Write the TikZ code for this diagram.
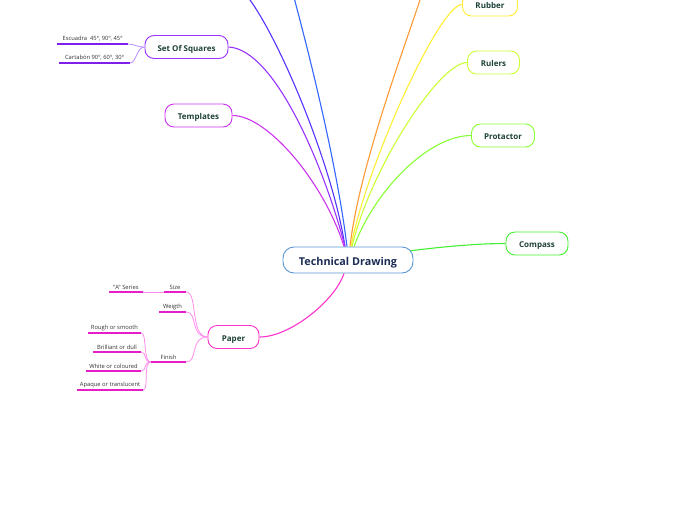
\documentclass[tikz,border=0pt]{standalone}
\usepackage{fontspec}
\setmainfont{Open Sans}
\usetikzlibrary{backgrounds}
\definecolor{navy}{RGB}{28,44,85}
\definecolor{nodetext}{RGB}{30,66,56}
\definecolor{subtext}{RGB}{50,50,50}
\definecolor{cdborder}{RGB}{90,150,210}
\definecolor{cviolet}{RGB}{85,51,255}
\definecolor{cblue}{RGB}{51,102,255}
\definecolor{csq}{RGB}{153,51,255}
\definecolor{csqdark}{RGB}{130,30,235}
\definecolor{csqlight}{RGB}{185,140,255}
\definecolor{ctp}{RGB}{204,51,238}
\definecolor{corange}{RGB}{255,153,51}
\definecolor{cyellow}{RGB}{255,238,51}
\definecolor{crulers}{RGB}{204,255,51}
\definecolor{cprot}{RGB}{136,255,51}
\definecolor{ccomp}{RGB}{68,238,51}
\definecolor{cpink}{RGB}{255,51,204}
\definecolor{cpinkdark}{RGB}{230,30,200}
\definecolor{cpinklight}{RGB}{255,140,235}
\begin{document}
\begin{tikzpicture}[x=1pt,y=-1pt,
  topic/.style={draw, rounded corners=9pt, line width=0.9pt, fill=white, text=nodetext,
    font=\fontsize{8}{9}\selectfont\bfseries, minimum height=23pt, inner sep=0pt,
    text height=0.85em, text depth=0pt},
  central/.style={draw=cdborder, rounded corners=11pt, line width=0.9pt, fill=white, text=navy,
    font=\fontsize{10.8}{12}\selectfont\bfseries, minimum height=26pt, minimum width=130pt, inner sep=0pt,
    text height=1em, text depth=0pt},
  subnode/.style={font=\fontsize{5.8}{7}\selectfont, text=subtext, inner xsep=0pt, inner ysep=2.2pt, anchor=south},
  conn/.style={line width=1.1pt},
  sqline/.style={draw=csqdark, line width=1.6pt},
  sqconn/.style={draw=csqlight, line width=0.8pt},
  pkline/.style={draw=cpinkdark, line width=1.6pt},
  pkconn/.style={draw=cpinklight, line width=0.8pt}]
\useasboundingbox (0,0) rectangle (696,520);
\clip (0,0) rectangle (696,520);

% main nodes
\node[central] (cd) at (348,260) {Technical Drawing};
\node[topic, draw=csq, minimum width=83pt] (sq) at (186.5,47) {Set Of Squares};
\node[topic, draw=ctp, minimum width=67pt] (tp) at (198.5,115.5) {Templates};
\node[topic, draw=cyellow, minimum width=55pt] (rb) at (490,4.5) {Rubber};
\node[topic, draw=crulers, minimum width=52pt] (rl) at (493.5,62.5) {Rulers};
\node[topic, draw=cprot, minimum width=63pt] (pr) at (503,135.5) {Protactor};
\node[topic, draw=ccomp, minimum width=62pt] (cp) at (537,243.5) {Compass};
\node[topic, draw=cpink, minimum width=51pt] (pp) at (233.5,337) {Paper};

\coordinate (o1) at (235,-15);
\coordinate (o2) at (292,-10);
\coordinate (o3) at (423,-10);

% set of squares subtopics
\node[subnode, minimum width=71pt] (e1) at (92.5,44) {Escuadra\ \ 45º, 90º, 45º};
\node[subnode, minimum width=71pt] (e2) at (94.5,63) {Cartabón 90º, 60º, 30º};

% paper subtopics
\node[subnode, minimum width=34pt] (as) at (126,292) {"A" Series};
\node[subnode, minimum width=22pt] (sz) at (175,292) {Size};
\node[subnode, minimum width=27pt] (wg) at (172.5,312) {Weigth};
\node[subnode, minimum width=35pt] (fn) at (168.5,362) {Finish};
\node[subnode, minimum width=53pt] (r1) at (114.5,333) {Rough or smooth};
\node[subnode, minimum width=48pt] (r2) at (117,352) {Brilliant or dull};
\node[subnode, minimum width=55pt] (r3) at (113.5,371) {White or coloured};
\node[subnode, minimum width=66pt] (r4) at (110,390) {Apaque or translucent};

\begin{scope}[on background layer]
  \draw[conn, cviolet] (o1) .. controls +(25,10) and +(-15,-97) .. ([xshift=-3pt]cd.north);
  \draw[conn, cblue] (o2) .. controls +(8,30) and +(-12,-97) .. ([xshift=-1pt]cd.north);
  \draw[conn, csq] (sq.east) .. controls +(47,2) and +(-20,-77) .. ([xshift=-3pt]cd.north);
  \draw[conn, ctp] (tp.east) .. controls +(36,0) and +(-19,-62) .. ([xshift=-4pt]cd.north);
  \draw[conn, corange] (o3) .. controls +(-8,30) and +(10,-87) .. ([xshift=2pt]cd.north);
  \draw[conn, cyellow] (rb.west) .. controls +(-23,0) and +(14,-77) .. ([xshift=3pt]cd.north);
  \draw[conn, crulers] (rl.west) .. controls +(-28,0) and +(18,-77) .. ([xshift=4pt]cd.north);
  \draw[conn, cprot] (pr.west) .. controls +(-42,0) and +(21,-57) .. ([xshift=6pt]cd.north);
  \draw[conn, ccomp] (cp.west) .. controls +(-40,0) and +(60,-10) .. (cd.center);
  \draw[conn, cpink] (pp.east) .. controls +(31,0) and +(-9,27) .. ([xshift=-4pt]cd.south);
\end{scope}

% squares sub connectors and underlines
\draw[sqconn] (sq.west) .. controls +(-8,0) and +(6,0) .. (e1.south east);
\draw[sqconn] (sq.west) .. controls +(-8,0) and +(6,0) .. (e2.south east);
\draw[sqline] (e1.south west) -- (e1.south east);
\draw[sqline] (e2.south west) -- (e2.south east);

% paper sub connectors
\draw[pkconn] (pp.west) .. controls +(-18,0) and +(12,0) .. (sz.south east);
\draw[pkconn] (pp.west) .. controls +(-18,0) and +(12,0) .. (wg.south east);
\draw[pkconn] (pp.west) .. controls +(-18,0) and +(12,0) .. (fn.south east);
\draw[pkconn] (sz.south west) -- (as.south east);
\draw[pkconn] (fn.south west) .. controls +(-8,0) and +(6,0) .. (r1.south east);
\draw[pkconn] (fn.south west) .. controls +(-8,0) and +(6,0) .. (r2.south east);
\draw[pkconn] (fn.south west) .. controls +(-8,0) and +(6,0) .. (r3.south east);
\draw[pkconn] (fn.south west) .. controls +(-8,0) and +(6,0) .. (r4.south east);
\foreach \n in {as,sz,wg,fn,r1,r2,r3,r4}
  \draw[pkline] (\n.south west) -- (\n.south east);
\end{tikzpicture}
\end{document}
